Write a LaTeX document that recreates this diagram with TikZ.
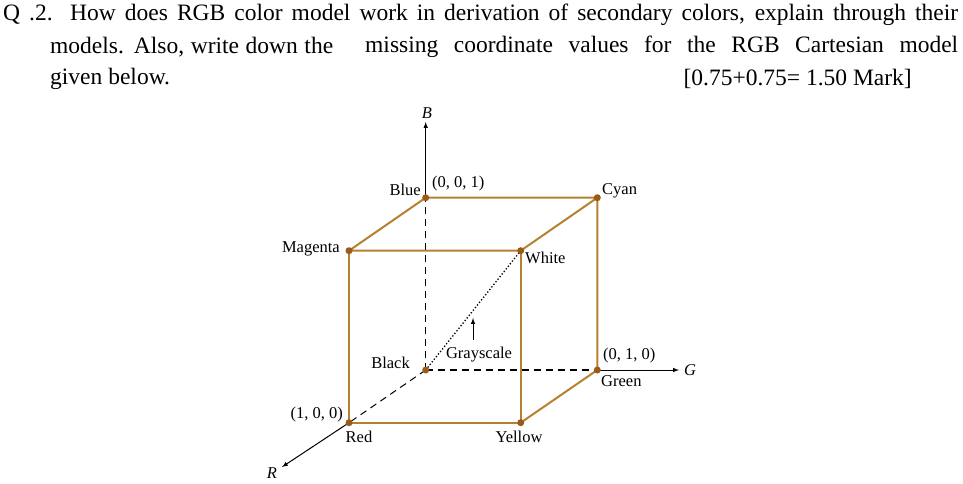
\documentclass[tikz,border=0pt]{standalone}
\usepackage{fontspec}
\setmainfont{Liberation Serif}
\definecolor{edge}{HTML}{B5812F}
\definecolor{dotc}{HTML}{9A5A1C}
\begin{document}
\begin{tikzpicture}[x=1pt,y=-1pt,
  cube/.style={edge, line width=2pt},
  dot/.style={circle, fill=dotc, inner sep=0pt, minimum size=7pt},
  lab/.style={font=\fontsize{16.5}{18}\selectfont, inner sep=1pt},
  hdr/.style={font=\fontsize{23.5}{26}\selectfont, inner sep=0pt, anchor=west},
  ax/.style={-latex, line width=1pt}]
\useasboundingbox (0,0) rectangle (963,483);
\node[hdr] (h1) at (3,15) {\makebox[955pt][s]{Q .2. How does RGB color model work in derivation of secondary colors, explain through their}};
\node[hdr] (h2a) at (50,47) {\makebox[283pt][s]{models. Also, write down the}};
\node[hdr] (h2b) at (365,47) {\makebox[593pt][s]{missing coordinate values for the RGB Cartesian model}};
\node[hdr] (h3a) at (50,79) {given below.};
\node[hdr,anchor=east] (h3b) at (912,79) {[0.75+0.75= 1.50 Mark]};

\coordinate (K) at (425.7,370);
\coordinate (Bl) at (425.7,197.7);
\coordinate (C) at (597.3,197.7);
\coordinate (M) at (349,250.7);
\coordinate (W) at (520.7,250.7);
\coordinate (Gr) at (597.3,370);
\coordinate (Rd) at (349,422.7);
\coordinate (Y) at (520.7,422.7);
\coordinate (Btop) at (425.7,122);
\coordinate (Gend) at (679,370);
\coordinate (Rend) at (282,467);

\draw[line width=1.3pt, dash pattern=on 7pt off 5pt] (K) -- (Bl) (K) -- (Gr);
\draw[line width=1pt, dash pattern=on 7pt off 5pt] (K) -- (Rd);
\draw[line width=1.3pt, dash pattern=on 1.3pt off 2pt] (K) -- (W);
\draw[cube] (Bl) -- (C) -- (W) -- (M) -- cycle;
\draw[cube] (M) -- (Rd) -- (Y) -- (W);
\draw[cube] (Y) -- (Gr) -- (C);
\draw[ax] (Bl) -- (Btop);
\draw[ax] (Gr) -- (Gend);
\draw[ax] (Rd) -- (Rend);
\foreach \p in {K,Bl,C,M,W,Gr,Rd,Y} \node[dot] at (\p) {};

\coordinate (ga0) at (473,340);
\coordinate (ga1) at (473,318);
\draw[ax] (ga0) -- (ga1);

\node[lab,font=\fontsize{16.5}{18}\selectfont\itshape] (lB) at (427,113) {B};
\node[lab,font=\fontsize{16.5}{18}\selectfont\itshape] (lG) at (690,370) {G};
\node[lab,font=\fontsize{16.5}{18}\selectfont\itshape] (lR) at (272,473) {R};
\node[lab,anchor=east] (lBlue) at (422,190) {Blue};
\node[lab,anchor=west] (lBc) at (431,184) {(0, 0, 1)};
\node[lab,anchor=west] (lC) at (601,191) {Cyan};
\node[lab,anchor=east] (lM) at (341,249) {Magenta};
\node[lab,anchor=west] (lW) at (524,258) {White};
\node[lab,anchor=east] (lK) at (411,363) {Black};
\node[lab] (lGs) at (479,355) {Grayscale};
\node[lab,anchor=west] (lGc) at (602,356) {(0, 1, 0)};
\node[lab,anchor=west] (lGn) at (600,381) {Green};
\node[lab,anchor=east] (lRc) at (344,415) {(1, 0, 0)};
\node[lab] (lRd) at (359,437) {Red};
\node[lab] (lY) at (519,437) {Yellow};
\end{tikzpicture}
\end{document}
